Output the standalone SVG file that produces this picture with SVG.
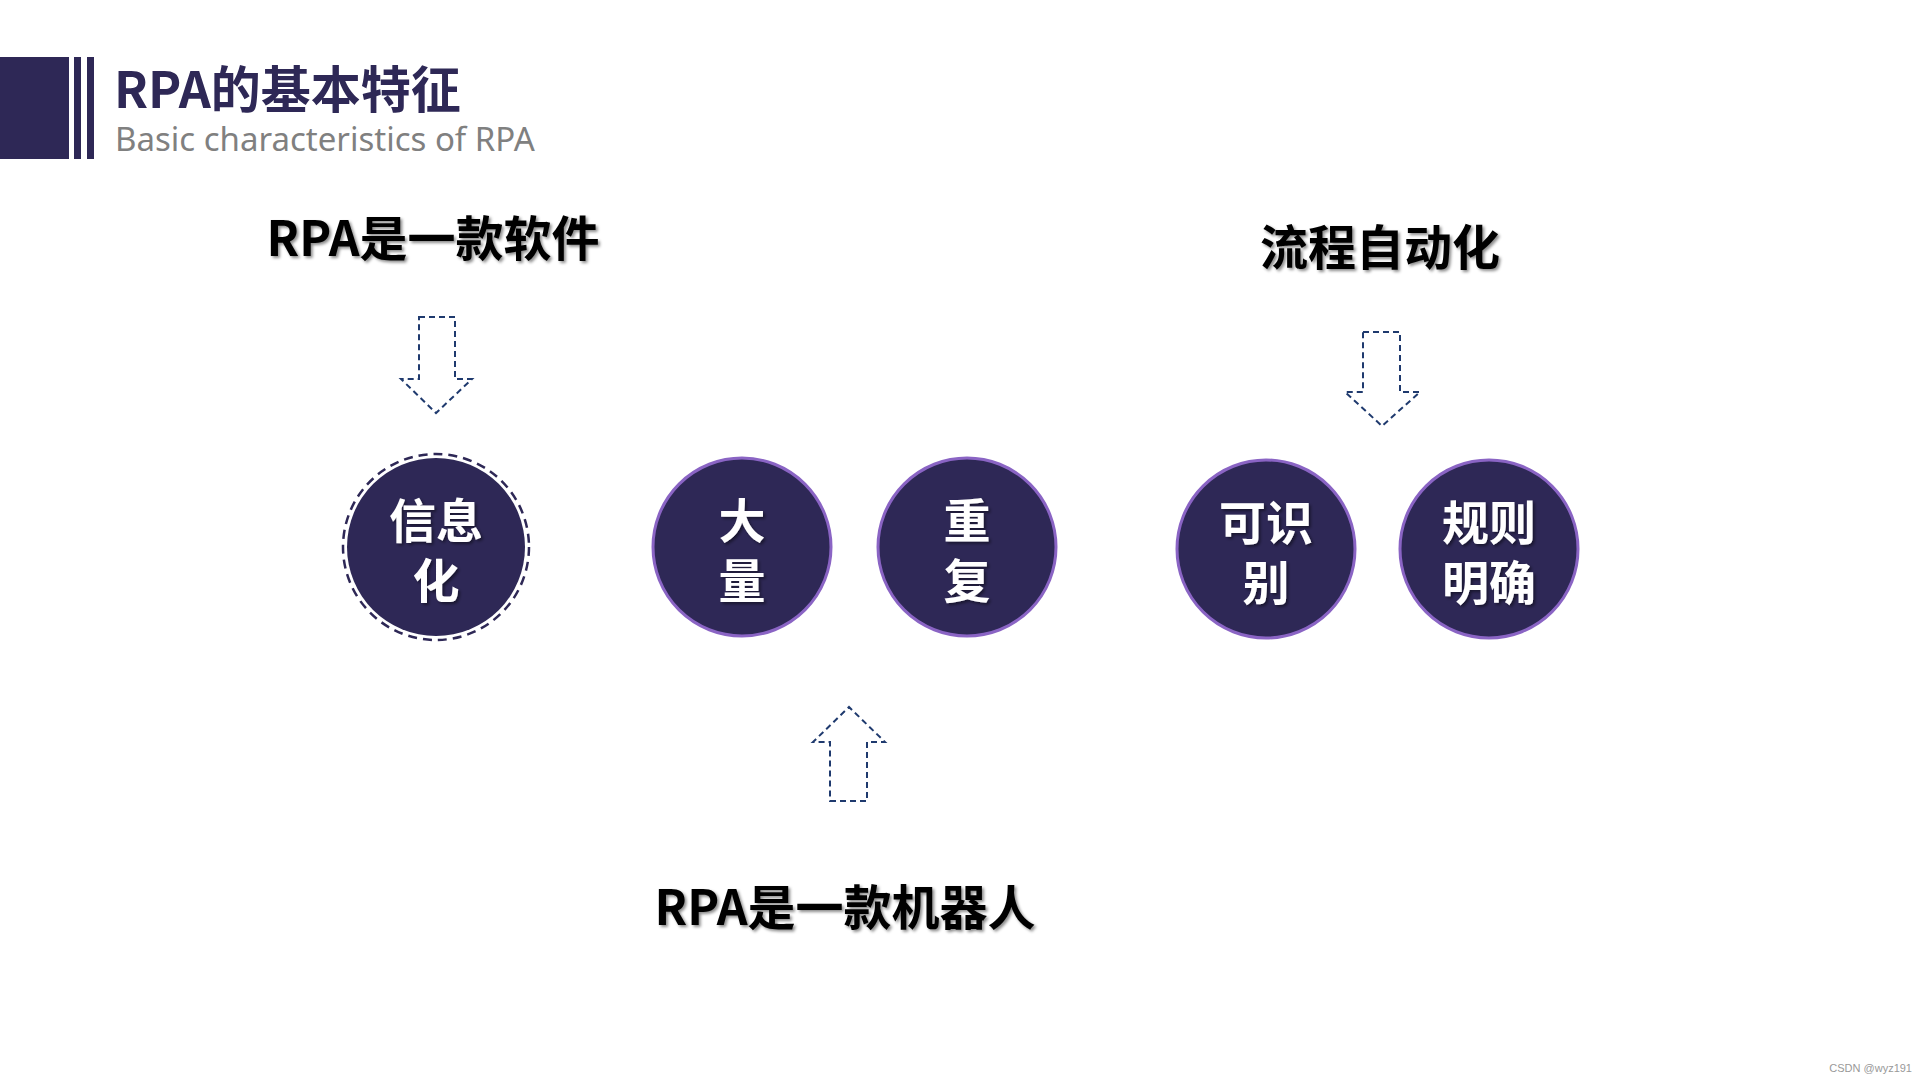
<svg xmlns="http://www.w3.org/2000/svg" width="1920" height="1080" viewBox="0 0 1920 1080">
<defs>
<filter id="sh" x="-20%" y="-20%" width="140%" height="140%"><feDropShadow dx="2" dy="2" stdDeviation="1.5" flood-color="#000" flood-opacity="0.45"/></filter>
</defs>
<style>
.cn{font-family:"Noto Sans CJK SC","Microsoft YaHei",sans-serif;font-weight:bold}
.lbl{font-size:48px;fill:#000;text-anchor:middle;filter:url(#sh)}
.ct{font-size:47px;fill:#fff;text-anchor:middle;filter:url(#sh)}
.circ{fill:#2e2856;stroke:#8a64c4;stroke-width:3}
.arr{fill:#fff;stroke:#1f3a6e;stroke-width:2;stroke-dasharray:6 4}
</style>
<rect width="1920" height="1080" fill="#fff"/>
<g id="header">
<rect x="0" y="57" width="69" height="102" fill="#2e2856"/>
<rect x="74" y="57" width="7" height="102" fill="#2e2856"/>
<rect x="87" y="57" width="7" height="102" fill="#2e2856"/>
<text x="114" y="108" class="cn" font-size="50" fill="#2e2856">RPA的基本特征</text>
<text x="115" y="151" font-family="'Noto Sans','Open Sans',sans-serif" font-size="33" fill="#808080">Basic characteristics of RPA</text>
</g>
<g id="label-software"><text x="433" y="256" class="cn lbl">RPA是一款软件</text></g>
<g id="label-process"><text x="1380" y="265" class="cn lbl">流程自动化</text></g>
<g id="label-robot"><text x="845" y="925" class="cn lbl">RPA是一款机器人</text></g>
<g id="connectors">
<path class="arr" d="M419 317 H455 V379 H472 L436 413 L401 379 H419 Z"/>
<path class="arr" d="M1363 332 H1400 V392 H1420 L1382 426 L1345 392 H1363 Z"/>
<path class="arr" d="M830 801 H867 V742 H885 L849 707 L813 742 H830 Z"/>
</g>
<g id="n-info">
<circle cx="436" cy="547" r="93" fill="none" stroke="#2e2856" stroke-width="2.5" stroke-dasharray="9 6"/>
<circle cx="436" cy="547" r="89" fill="#2e2856"/>
<text x="436" y="538" class="cn ct">信息</text><text x="436" y="598" class="cn ct">化</text>
</g>
<g id="n-large"><circle class="circ" cx="742" cy="547" r="89"/>
<text x="742" y="538" class="cn ct">大</text><text x="742" y="598" class="cn ct">量</text></g>
<g id="n-repeat"><circle class="circ" cx="967" cy="547" r="89"/>
<text x="967" y="538" class="cn ct">重</text><text x="967" y="598" class="cn ct">复</text></g>
<g id="n-ident"><circle class="circ" cx="1266" cy="549" r="89"/>
<text x="1266" y="540" class="cn ct">可识</text><text x="1266" y="600" class="cn ct">别</text></g>
<g id="n-rule"><circle class="circ" cx="1489" cy="549" r="89"/>
<text x="1489" y="540" class="cn ct">规则</text><text x="1489" y="600" class="cn ct">明确</text></g>
<text x="1912" y="1072" text-anchor="end" font-family="'Liberation Sans',sans-serif" font-size="11" fill="#999">CSDN @wyz191</text>
</svg>
